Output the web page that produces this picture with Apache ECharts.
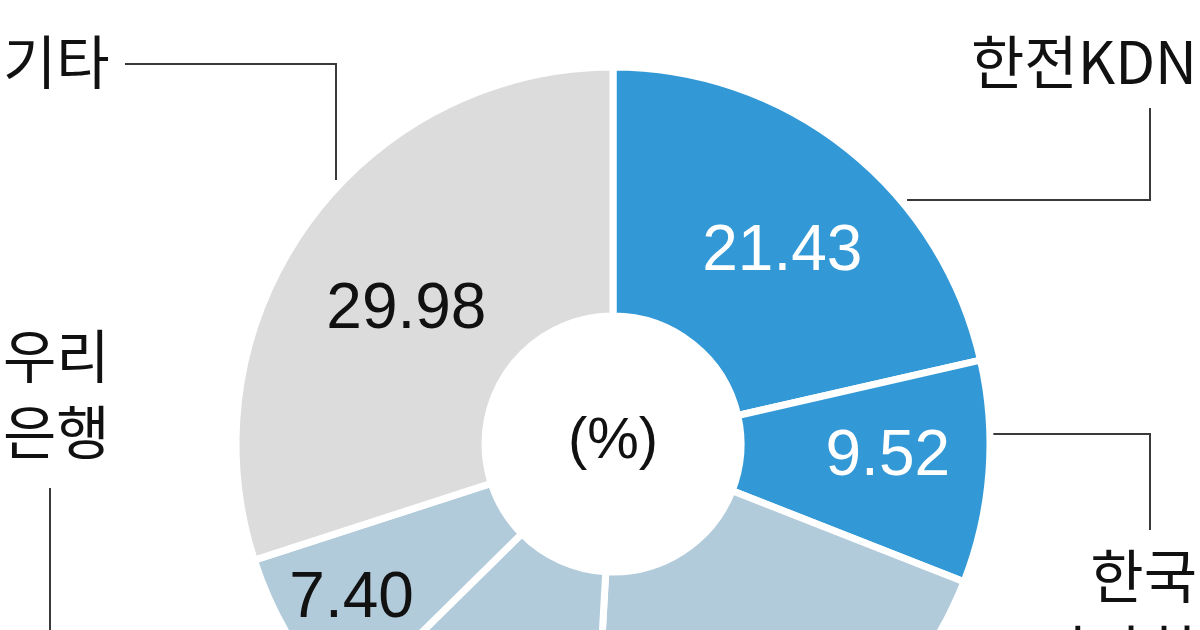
<!DOCTYPE html>
<html>
<head>
<meta charset="utf-8">
<script src="https://cdn.jsdelivr.net/npm/echarts@6/dist/echarts.min.js"></script>
<style>
  html, body { margin: 0; padding: 0; background: #fff; }
  #draw { width: 1200px; height: 630px; }
</style>
</head>
<body>
<div id="draw"></div>
<script>
  // 지분율 (%)
  var names = ['한전KDN', '한국마사회', '한국인삼공사', '미래에셋생명', '우리은행', '기타']
  var labelNames = ['한전KDN', '한국\n마사회', '한국\n인삼공사', '미래에셋\n생명', '우리\n은행', '기타']
  var values = [21.43, 9.52, 19.95, 11.72, 7.40, 29.98]
  var unitText = '(%)'

  var colors = ['#3399d6', '#3399d6', '#b1cbdb', '#b1cbdb', '#b1cbdb', '#dcdcdc']
  var textColors = ['#fff', '#fff', '#111', '#111', '#111', '#111']
  var center = [613, 444]
  var radius = [128, 377]

  // 숫자 라벨 위치 보정
  var valueOffset = [[10, 8], [20, -6], [0, 0], [0, 0], [-43, 23], [0, 17]]

  // 이름 라벨 + 지시선
  var nameLayout = [
    { x: 1197, y: 62, align: 'right', verticalAlign: 'middle', line: [[907, 200], [1150, 200], [1150, 108]] },
    { x: 1197, y: 538, align: 'right', verticalAlign: 'top', line: [[993, 434], [1150, 434], [1150, 530]] },
    { x: 900, y: 760, align: 'center', verticalAlign: 'top', line: null },
    { x: 300, y: 760, align: 'center', verticalAlign: 'top', line: null },
    { x: 3, y: 318, align: 'left', verticalAlign: 'top', line: [[300, 660], [50, 660], [50, 488]] },
    { x: 3, y: 62, align: 'left', verticalAlign: 'middle', line: [[336, 180], [336, 64], [125, 64]] }
  ]

  var valueData = []
  var nameData = []
  for (var i = 0; i < values.length; i++) {
    valueData.push({
      name: names[i],
      value: values[i],
      itemStyle: { color: colors[i] },
      label: { color: textColors[i] }
    })
    nameData.push({ name: labelNames[i], value: values[i] })
  }

  var myChart = echarts.init(document.getElementById('draw'))
  myChart.setOption({
    animation: false,
    graphic: [{
      type: 'text',
      x: center[0],
      y: center[1] - 2,
      style: {
        text: unitText,
        fill: '#111',
        font: '58px "Liberation Sans", Arial, sans-serif',
        textAlign: 'center',
        textVerticalAlign: 'middle'
      }
    }],
    series: [{
      type: 'pie',
      center: center,
      radius: radius,
      startAngle: 90,
      avoidLabelOverlap: false,
      silent: true,
      itemStyle: { borderColor: '#fff', borderWidth: 7 },
      label: {
        show: true,
        position: 'inside',
        formatter: function (p) { return p.value.toFixed(2) },
        fontFamily: '"Liberation Sans", Arial, sans-serif',
        fontSize: 64
      },
      labelLine: { show: false },
      labelLayout: function (p) {
        var o = valueOffset[p.dataIndex]
        return { dx: o[0], dy: o[1] }
      },
      data: valueData
    }, {
      type: 'pie',
      center: center,
      radius: radius,
      startAngle: 90,
      avoidLabelOverlap: false,
      silent: true,
      itemStyle: { color: 'rgba(0,0,0,0)', borderWidth: 0 },
      label: {
        show: true,
        position: 'outside',
        formatter: '{b}',
        color: '#111',
        fontFamily: '"Noto Sans CJK KR", sans-serif',
        fontSize: 58,
        lineHeight: 76
      },
      labelLine: { show: true, lineStyle: { color: '#3a3a3a', width: 2 } },
      labelLayout: function (p) {
        var l = nameLayout[p.dataIndex]
        var r = { x: l.x, y: l.y, align: l.align, verticalAlign: l.verticalAlign }
        if (l.line) r.labelLinePoints = l.line
        return r
      },
      data: nameData
    }]
  })
</script>
</body>
</html>
